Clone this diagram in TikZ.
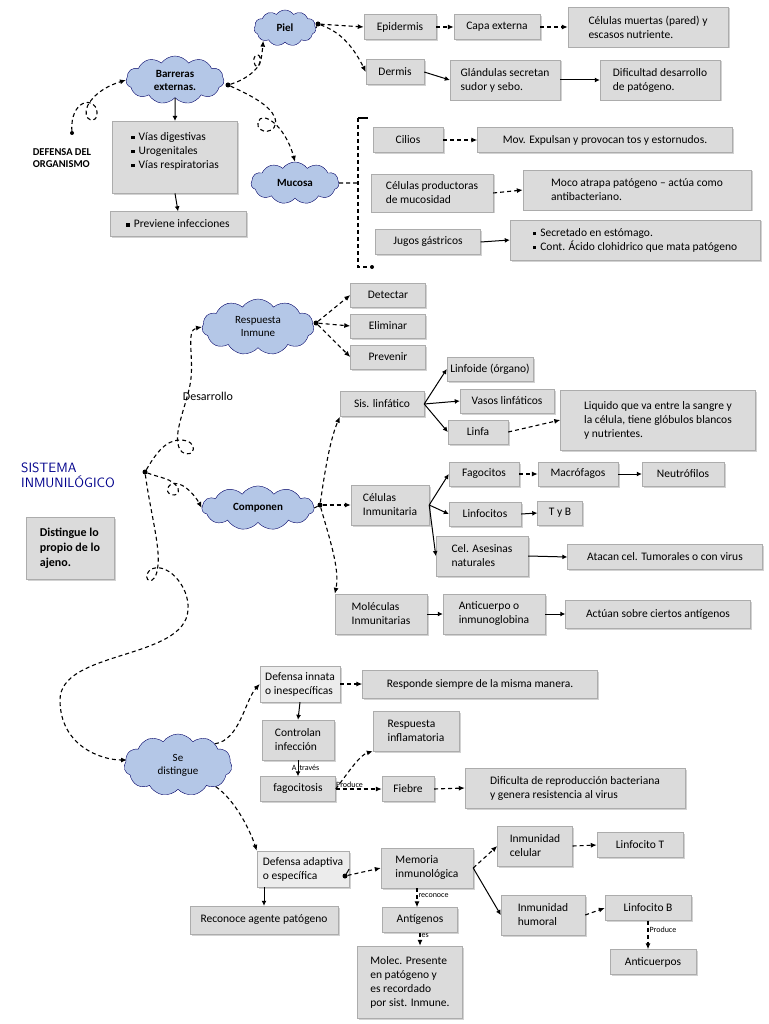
\documentclass[tikz,border=0pt]{standalone}
\usepackage{fontspec}
\setmainfont{Carlito}
\usetikzlibrary{shapes.symbols,shadows,arrows.meta}
\newcommand{\sq}{\rule[1pt]{3.5pt}{3.5pt}\hspace{4pt}}
\definecolor{cloudc}{RGB}{180,199,231}
\begin{document}
\begin{tikzpicture}[x=1pt,y=-1pt,
 box/.style={draw=gray!65,fill=gray!28,drop shadow={opacity=0.35,shadow xshift=1.5pt,shadow yshift=-1.5pt},font=\fontsize{11.5}{14}\selectfont,inner sep=3pt,minimum height=25pt,align=left},
 cl/.style={cloud,cloud puffs=11,cloud puff arc=110,aspect=2,draw=blue!40!black,fill=cloudc,font=\fontsize{11}{13}\selectfont,align=center,inner sep=0pt},
 da/.style={draw,line width=1.1pt,dash pattern=on 4pt off 3pt,-{Latex[length=6pt,width=5pt]}},
 so/.style={draw,line width=1pt,-{Latex[length=5pt,width=5pt]}},
 dot/.style={circle,fill,inner sep=0pt,minimum size=5pt},
 lab/.style={font=\fontsize{8}{9}\selectfont,inner sep=1pt}]
\useasboundingbox[fill=white] (0,0) rectangle (768,1024);
% ---------- top ----------
\node[cl,minimum width=62pt,minimum height=36pt] (piel) at (285,28) {\textbf{Piel}};
\node[cl,minimum width=98pt,minimum height=48pt] (bar) at (175,80) {\textbf{Barreras}\\\textbf{externas.}};
\node[font=\fontsize{10.5}{12.5}\selectfont\bfseries,align=left] (def) at (62,158) {DEFENSA DEL\\ORGANISMO};
\node[box,minimum width=72pt] (epi) at (400,27) {Epidermis};
\node[box,minimum width=86pt] (capa) at (497,27) {Capa externa};
\node[box,minimum width=160pt,minimum height=40pt] (cel) at (648,27) {Células muertas (pared) y\\escasos nutriente.};
\node[box,minimum width=58pt] (der) at (395,72) {Dermis};
\node[box,minimum width=110pt,minimum height=40pt] (gla) at (505,80) {Glándulas secretan\\sudor y sebo.};
\node[box,minimum width=120pt,minimum height=40pt] (dif) at (660,80) {Dificultad desarrollo\\de patógeno.};
\node[box,minimum width=125pt,minimum height=72pt,anchor=north] (vias) at (175,121) {\sq Vías digestivas\\\sq Urogenitales\\\sq Vías respiratorias\\\mbox{}};
\node[box,minimum width=136pt] (prev) at (178,224) {\sq Previene infecciones};
\node[cl,minimum width=88pt,minimum height=42pt] (muc) at (295,183) {\textbf{Mucosa}};
\node[box,minimum width=70pt] (cil) at (408,140) {Cilios};
\node[box,minimum width=255pt] (mov) at (605,140) {Mov. Expulsan y provocan tos y estornudos.};
\node[box,minimum width=122pt,minimum height=38pt] (cpm) at (432,193) {Células productoras\\de mucosidad};
\node[box,minimum width=228pt,minimum height=40pt] (moco) at (637,190) {Moco atrapa patógeno -- actúa como\\antibacteriano.};
\node[box,minimum width=105pt] (jug) at (428,242) {Jugos gástricos};
\node[box,minimum width=250pt,minimum height=40pt] (sec) at (635,240) {\sq Secretado en estómago.\\\sq Cont. Ácido clohidrico que mata patógeno};
\node[dot,minimum size=4pt] (d1) at (72,133) {};
\node[dot] (d2) at (228,85) {};
\node[dot] (d3) at (318,24) {};
\coordinate (bt) at (358,118); \coordinate (bb) at (358,267);
\node[dot,minimum size=4pt] (d4) at (372,267) {};
\path[da] (d1) .. controls (70,100) and (95,95) .. (97,112) .. controls (99,125) and (80,122) .. (88,105) .. controls (95,92) and (110,85) .. (bar.west);
\path[da] (d2) .. controls (245,80) and (258,70) .. (260,62) .. controls (262,50) and (250,55) .. (255,65) .. controls (260,72) and (262,55) .. (piel.south west);
\path[da] (d2) .. controls (250,95) and (270,105) .. (275,118) .. controls (280,135) and (255,135) .. (258,122) .. controls (262,110) and (285,125) .. (muc.north);
\path[so] (bar.south) -- (vias.north);
\path[so] (vias.south) -- (prev.north);
\draw[line width=1pt] (piel.east) -- (d3);
\path[da] (d3) -- (epi.west);
\path[da] (d3) .. controls (335,30) and (350,40) .. (der.west);
\path[da] (epi.east) -- (capa.west);
\path[da] (capa.east) -- (cel.west);
\path[so] (der.east) -- (gla.west);
\path[so] (gla.east) -- (dif.west);
\draw[line width=1.1pt,dash pattern=on 4pt off 3pt] (muc.east) -- (358,183);
\draw[line width=1.1pt,dash pattern=on 4pt off 3pt] (bt) -- (bb) -- (d4);
\draw[line width=1.1pt] (bt) -- ++(10,0);
\path[da] (cil.east) -- (mov.west);
\path[da] (cpm.east) -- (moco.west);
\path[so] (jug.east) -- (sec.west);
% ---------- middle ----------
\node[cl,minimum width=112pt,minimum height=56pt] (resp) at (258,327) {Respuesta\\Inmune};
\node[box,minimum width=75pt,minimum height=24pt] (detec) at (388,295) {Detectar};
\node[box,minimum width=75pt,minimum height=24pt] (elim) at (388,326) {Eliminar};
\node[box,minimum width=75pt,minimum height=24pt] (prevn) at (388,357) {Prevenir};
\node[font=\fontsize{12}{14}\selectfont] (desa) at (208,396) {Desarrollo};
\node[font=\fontsize{13.5}{15}\selectfont\sffamily,text=blue!55!black,align=left] (sis) at (68,475) {SISTEMA\\INMUNILÓGICO};
\node[box,minimum width=88pt,minimum height=62pt,font=\fontsize{12}{15}\selectfont\bfseries] (dist) at (70,548) {Distingue lo\\propio de lo\\ajeno.};
\node[cl,minimum width=112pt,minimum height=40pt] (comp) at (258,508) {\textbf{Componen}};
\node[box,minimum width=84pt] (slin) at (382,404) {Sis. linfático};
\node[box,minimum width=86pt,minimum height=24pt] (linf) at (490,369) {Linfoide (órgano)};
\node[box,minimum width=94pt,minimum height=24pt] (vas) at (507,401) {Vasos linfáticos};
\node[box,minimum width=60pt,minimum height=24pt] (linfa) at (478,432) {Linfa};
\node[box,minimum width=195pt,minimum height=60pt] (liq) at (658,420) {Liquido que va entre la sangre y\\la célula, tiene glóbulos blancos\\y nutrientes.};
\node[box,minimum width=78pt,minimum height=40pt] (cinm) at (390,505) {Células\\Inmunitaria};
\node[box,minimum width=70pt,minimum height=24pt] (fag) at (484,474) {Fagocitos};
\node[box,minimum width=80pt,minimum height=24pt] (mac) at (578,474) {Macrófagos};
\node[box,minimum width=82pt,minimum height=24pt] (neu) at (683,474) {Neutrófilos};
\node[box,minimum width=72pt,minimum height=24pt] (lin) at (485,514) {Linfocitos};
\node[box,minimum width=45pt,minimum height=24pt] (tyb) at (560,513) {T y B};
\node[box,minimum width=92pt,minimum height=40pt] (ase) at (482,556) {Cel. Asesinas\\naturales};
\node[box,minimum width=195pt] (ata) at (665,557) {Atacan cel. Tumorales o con virus};
\node[box,minimum width=92pt,minimum height=40pt] (mol) at (381,614) {Moléculas\\Inmunitarias};
\node[box,minimum width=102pt,minimum height=40pt] (anti) at (494,614) {Anticuerpo o\\inmunoglobina};
\node[box,minimum width=185pt,minimum height=28pt] (act) at (658,614) {Actúan sobre ciertos antígenos};
\node[dot] (d5) at (316,323) {};
\node[dot] (d6) at (145,472) {};
\node[dot] (d7) at (320,505) {};
\path[da] (d5) -- (detec.west);
\path[da] (d5) -- (elim.west);
\path[da] (d5) -- (prevn.west);
\path[da] (d6) .. controls (155,455) and (165,440) .. (180,440) .. controls (200,440) and (195,460) .. (182,452) .. controls (170,440) and (185,410) .. (190,385) .. controls (195,360) and (185,330) .. (resp.west);
\path[da] (d6) .. controls (160,478) and (172,478) .. (178,488) .. controls (182,500) and (160,495) .. (170,485) .. controls (180,478) and (195,495) .. (comp.west);
\path[da] (d6) .. controls (150,510) and (160,545) .. (158,565) .. controls (156,590) and (140,580) .. (150,570) .. controls (165,560) and (190,585) .. (188,610) .. controls (185,660) and (60,650) .. (60,700) .. controls (60,745) and (100,760) .. (127,760);
\draw[line width=1pt] (comp.east) -- (d7);
\path[da] (d7) .. controls (325,470) and (330,440) .. (slin.south west);
\path[da] (d7) -- (cinm.west);
\path[da] (d7) .. controls (330,540) and (340,570) .. (mol.north west);
\path[so] (slin.east) -- (linf.west);
\path[so] (slin.east) -- (vas.west);
\path[so] (slin.east) -- (linfa.west);
\path[da] (linfa.east) -- (liq.west);
\path[so] (cinm.east) -- (fag.west);
\path[so] (cinm.east) -- (lin.west);
\path[so] (cinm.east) -- (ase.west);
\path[da] (fag.east) -- (mac.west);
\path[so] (mac.east) -- (neu.west);
\path[so] (lin.east) -- (tyb.west);
\path[so] (ase.east) -- (ata.west);
\path[so] (mol.east) -- (anti.west);
\path[so] (anti.east) -- (act.west);
% ---------- bottom ----------
\node[cl,minimum width=108pt,minimum height=62pt] (sed) at (178,765) {Se\\distingue};
\node[box,fill=gray!15,minimum width=80pt,minimum height=36pt] (inn) at (300,684) {Defensa innata\\o inespecíficas};
\node[box,minimum width=235pt,minimum height=28pt] (resp2) at (480,684) {Responde siempre de la misma manera.};
\node[box,minimum width=72pt,minimum height=40pt] (contr) at (298,740) {Controlan\\infección};
\node[box,minimum width=86pt,minimum height=40pt] (infl) at (416,731) {Respuesta\\inflamatoria};
\node[box,minimum width=75pt] (fago) at (298,789) {fagocitosis};
\node[box,minimum width=52pt] (fieb) at (408,789) {Fiebre};
\node[box,minimum width=220pt,minimum height=40pt] (difi) at (575,788) {Dificulta de reproducción bacteriana\\y genera resistencia al virus};
\node[box,fill=gray!15,minimum width=92pt,minimum height=36pt] (adap) at (303,869) {Defensa adaptiva\\o específica};
\node[box,minimum width=148pt,minimum height=28pt] (reco) at (264,920) {Reconoce agente patógeno};
\node[box,minimum width=92pt,minimum height=40pt] (mem) at (427,868) {Memoria\\inmunológica};
\node[box,minimum width=75pt] (antg) at (420,920) {Antígenos};
\node[box,minimum width=105pt,minimum height=72pt] (molec) at (410,982) {Molec. Presente\\en patógeno y\\es recordado\\por sist. Inmune.};
\node[box,minimum width=75pt,minimum height=40pt] (icel) at (535,846) {Inmunidad\\celular};
\node[box,minimum width=86pt] (lt) at (640,845) {Linfocito T};
\node[box,minimum width=84pt,minimum height=40pt] (ihum) at (543,915) {Inmunidad\\humoral};
\node[box,minimum width=86pt] (lb) at (648,908) {Linfocito B};
\node[box,minimum width=86pt] (acs) at (653,962) {Anticuerpos};
\node[dot] (d8) at (345,876) {};
\path[da] (sed.north east) .. controls (240,740) and (245,700) .. (inn.west);
\path[da] (sed.south east) .. controls (235,800) and (250,830) .. (adap.north west);
\path[da] (inn.east) -- (resp2.west);
\path[so] (inn.south) -- (contr.north);
\path[so] (contr.south) -- node[lab,left,pos=0.5]{A} node[lab,right,pos=0.5]{través} (fago.north);
\path[da] (fago.east) .. controls (350,770) and (360,755) .. (infl.south west);
\path[da] (fago.east) -- node[lab,above,pos=0.3]{Produce} (fieb.west);
\path[da] (fieb.east) -- (difi.west);
\path[so] (adap.south) ++(-39,0) -- (reco.north -| 264,0);
\draw[line width=1pt] (adap.east) -- (d8);
\path[da] (d8) -- (mem.west);
\path[da] (mem.east) -- (icel.west);
\path[so] (mem.east) -- (ihum.west);
\path[da] (mem.south) ++(-10,0) coordinate (ms) -- node[lab,right,pos=0.4]{reconoce} (antg.north -| ms);
\path[da] (antg.south) -- node[lab,right,pos=0.2]{es} (molec.north -| antg.south);
\path[da] (icel.east) -- (lt.west);
\path[da] (ihum.east) -- (lb.west);
\path[da] (lb.south) -- node[lab,right,pos=0.3]{Produce} (acs.north -| lb.south);
\end{tikzpicture}
\end{document}
